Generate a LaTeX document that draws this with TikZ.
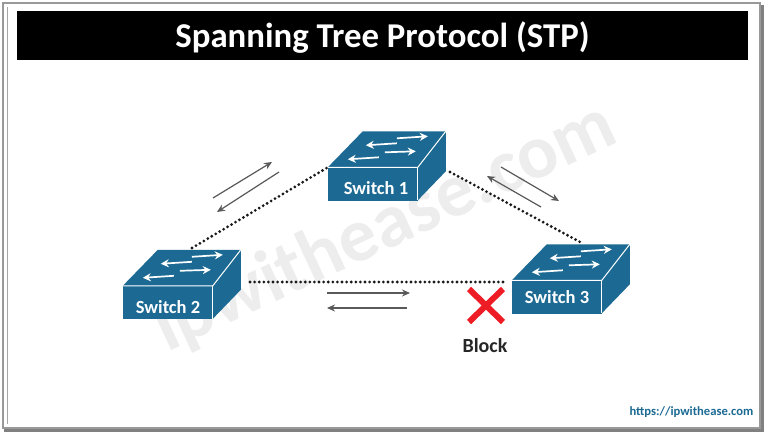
\documentclass[tikz,border=0pt]{standalone}
\usepackage{fontspec}
\setmainfont{Carlito}
\usepackage{xcolor}
\usetikzlibrary{positioning,arrows.meta,calc}
\definecolor{swblue}{HTML}{1C6A94}
\definecolor{xred}{HTML}{EE1C25}

\begin{document}
\begin{tikzpicture}[
    x=1pt, y=-1pt,
    switchbox/.style={rectangle, fill=swblue, minimum width=90pt, minimum height=33pt, inner sep=0pt},
    swlabel/.style={text=white, font=\fontsize{18.5}{18.5}\selectfont\bfseries, inner sep=0pt},
    link/.style={line width=3.1pt, dash pattern=on 0pt off 4.6pt, line cap=round, black!90},
    flow/.style={-{Stealth[length=8pt,width=7pt]}, line width=1.2pt, black!65},
    portarrow/.style={-{Stealth[length=8pt,width=8pt]}, line width=1.7pt, white},
    crossbar/.style={line width=6pt, xred},
    swtop/.pic={
        \fill[swblue] (0,0) -- (35,-36) -- (118,-36) -- (118,4) -- (90,33) -- (90,0) -- cycle;
        \draw[white, line width=1pt] (0,0) -- (90,0) -- (118,-36);
        \draw[white, line width=1pt] (90,0) -- (90,33);
        \draw[portarrow] (69,-29) -- (100,-31);
        \draw[portarrow] (69,-24) -- (38,-22);
        \draw[portarrow] (57,-15) -- (88,-16);
        \draw[portarrow] (51,-10) -- (20,-8);
    },
]
\useasboundingbox (0,0) rectangle (768,436);

% Frame
\fill[white] (0,0) rectangle (768,436);
\draw[gray!80, line width=1.5pt] (3,3) rectangle (760,428);
\draw[gray!70, line width=1pt] (7,7) -- (7,424);
\draw[gray, line width=3pt] (4,430) -- (762,430) -- (762,5);

% Title
\node[fill=black, minimum width=731pt, minimum height=49pt, inner sep=0pt] (title) at (382.5,35.5) {};
\node[text=white, inner sep=0pt, yshift=-2pt,
      font=\fontsize{34.8}{34.8}\selectfont\bfseries] (titletext) at (title) {Spanning Tree Protocol (STP)};

% Watermark
\node[rotate=25, text=black!7, font=\fontsize{76}{76}\selectfont\bfseries] (mark) at (385,228) {ipwithease.com};

% Switches
\node[switchbox] (sw1) at (373,184) {};
\node[switchbox] (sw2) at (168,302.5) {};
\node[switchbox] (sw3) at (557,297) {};
\foreach \s in {sw1, sw2, sw3} {
    \pic at (\s.north west) {swtop};
}
\node[swlabel, xshift=3pt, yshift=-4pt] (name1) at (sw1) {Switch 1};
\node[swlabel, yshift=-5pt] (name2) at (sw2) {Switch 2};
\node[swlabel] (name3) at (sw3) {Switch 3};

% Links
\coordinate (sw2up) at (192,248);
\coordinate (sw3up) at (580,242);
\coordinate (sw1right) at (450,172);
\coordinate (sw2right) at (250,282);
\coordinate (sw3left) at (507,282);
\draw[link] (sw2up) -- (sw1.north west);
\draw[link] (sw1right) -- (sw3up);
\draw[link] (sw2right) -- (sw3left);

% Traffic arrows
\foreach \n/\ax/\ay/\bx/\by in {a/213/198/272/162, b/279/172/217/212, c/501/167/559/201,
                                d/541/207/487/176, e/327/293/410/293, f/407/308/327/308} {
    \coordinate (\n from) at (\ax,\ay);
    \coordinate (\n to) at (\bx,\by);
    \draw[flow] (\n from) -- (\n to);
}

% Blocked port
\draw[crossbar] (469,289) -- (503,322);
\draw[crossbar] (503,289) -- (469,322);
\node[font=\fontsize{20}{20}\selectfont\bfseries, text=black!85] (block) at (485,346) {Block};

% Site link
\node[font=\fontsize{12.6}{13}\selectfont\bfseries, text=swblue] (site) at (691.5,412) {https://ipwithease.com};
\end{tikzpicture}
\end{document}
